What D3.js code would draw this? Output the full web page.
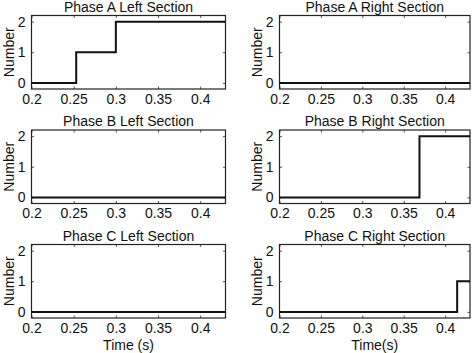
<!DOCTYPE html>
<html>
<head>
<meta charset="utf-8">
<script src="https://cdn.jsdelivr.net/npm/d3@7"></script>
<style>
  body { margin: 0; background: #fff; }
  svg { display: block; font-family: "Liberation Sans", Arial, sans-serif; }
  .tick text { font-size: 14px; fill: #111; }
</style>
</head>
<body>
<div id="chart"></div>
<script>
const width = 474;
const height = 353;

// data: breakpoints in time (s) and the count held from each breakpoint on
const titles = [
  "Phase A Left Section", "Phase A Right Section",
  "Phase B Left Section", "Phase B Right Section",
  "Phase C Left Section", "Phase C Right Section"
];
const phaseALeftTime = [0.2, 0.253, 0.3, 0.43];
const phaseALeftNum = [0, 1, 2, 2];
const phaseARightTime = [0.2, 0.43];
const phaseARightNum = [0, 0];
const phaseBLeftTime = [0.2, 0.43];
const phaseBLeftNum = [0, 0];
const phaseBRightTime = [0.2, 0.369, 0.43];
const phaseBRightNum = [0, 2, 2];
const phaseCLeftTime = [0.2, 0.43];
const phaseCLeftNum = [0, 0];
const phaseCRightTime = [0.2, 0.4145, 0.43];
const phaseCRightNum = [0, 1, 1];

const xTicks = [0.2, 0.25, 0.3, 0.35, 0.4];
const xTickLabels = ["0.2", "0.25", "0.3", "0.35", "0.4"];
const yTicks = [0, 1, 2];
const yTickLabels = ["0", "1", "2"];
const xLabels = ["Time (s)", "Time(s)"];

const series = [
  [phaseALeftTime, phaseALeftNum], [phaseARightTime, phaseARightNum],
  [phaseBLeftTime, phaseBLeftNum], [phaseBRightTime, phaseBRightNum],
  [phaseCLeftTime, phaseCLeftNum], [phaseCRightTime, phaseCRightNum]
];

// layout
const colLeft = [31.5, 279.5];
const colRight = [225.5, 470];
const rowTop = [15.5, 130, 244.5];
const plotH = 73.5;

const svg = d3.select("#chart").append("svg")
  .attr("width", width)
  .attr("height", height);

series.forEach(([times, nums], i) => {
  const col = i % 2;
  const row = Math.floor(i / 2);
  const w = colRight[col] - colLeft[col];

  const x = d3.scaleLinear().domain([0.2, 0.43]).range([0, w]);
  const y = d3.scaleLinear().domain([-0.2, 2.2]).range([plotH, 0]);

  const g = svg.append("g")
    .attr("transform", `translate(${colLeft[col]},${rowTop[row]})`);

  // inner ticks on all four sides, matlab style
  g.append("g")
    .attr("transform", `translate(0,${plotH})`)
    .call(d3.axisBottom(x).tickValues(xTicks).tickSize(-2.5)
      .tickFormat((d, k) => xTickLabels[k]).tickPadding(5))
    .call(a => a.select(".domain").remove())
    .call(a => a.selectAll("line").attr("stroke", "#555"));

  g.append("g")
    .call(d3.axisTop(x).tickValues(xTicks).tickSize(-2.5).tickFormat(""))
    .call(a => a.select(".domain").remove())
    .call(a => a.selectAll("line").attr("stroke", "#555"));

  g.append("g")
    .call(d3.axisLeft(y).tickValues(yTicks).tickSize(-2.5).tickPadding(6)
      .tickFormat((d, k) => yTickLabels[k]))
    .call(a => a.select(".domain").remove())
    .call(a => a.selectAll("line").attr("stroke", "#555"));

  g.append("g")
    .attr("transform", `translate(${w},0)`)
    .call(d3.axisRight(y).tickValues(yTicks).tickSize(-2.5).tickFormat(""))
    .call(a => a.select(".domain").remove())
    .call(a => a.selectAll("line").attr("stroke", "#555"));

  g.selectAll(".tick text").attr("font-family", null).attr("font-size", null);

  // box
  g.append("rect")
    .attr("width", w)
    .attr("height", plotH)
    .attr("fill", "none")
    .attr("stroke", "#222")
    .attr("stroke-width", 1.2);

  const points = times.map((t, k) => [t, nums[k]]);
  const line = d3.line()
    .x(d => x(d[0]))
    .y(d => y(d[1]))
    .curve(d3.curveStepAfter);

  g.append("path")
    .datum(points)
    .attr("d", line)
    .attr("fill", "none")
    .attr("stroke", "#111")
    .attr("stroke-width", 2);

  g.append("text")
    .attr("x", w / 2)
    .attr("y", -4)
    .attr("text-anchor", "middle")
    .attr("font-size", 14)
    .attr("fill", "#111")
    .text(titles[i]);

  g.append("text")
    .attr("transform", `translate(${-18},${plotH / 2}) rotate(-90)`)
    .attr("text-anchor", "middle")
    .attr("font-size", 14)
    .attr("fill", "#111")
    .text("Number");

  if (row === 2) {
    g.append("text")
      .attr("x", w / 2)
      .attr("y", plotH + 32)
      .attr("text-anchor", "middle")
      .attr("font-size", 14)
      .attr("fill", "#111")
      .text(xLabels[col]);
  }
});
</script>
</body>
</html>
